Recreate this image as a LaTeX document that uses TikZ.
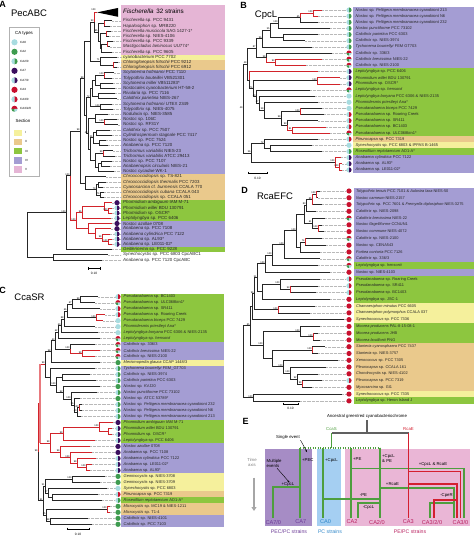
\documentclass[tikz,border=0pt]{standalone}
\usepackage{fontspec}
\setmainfont{Liberation Sans}
\usetikzlibrary{arrows.meta}

\definecolor{secI}{HTML}{F5F09C}
\definecolor{secII}{HTML}{EAC98C}
\definecolor{secIII}{HTML}{8DC63F}
\definecolor{secIV}{HTML}{A49DD3}
\definecolor{secV}{HTML}{E5B5D5}
\definecolor{cazero}{HTML}{A8DCE0}
\definecolor{cagreen}{HTML}{3E9B4F}
\definecolor{capurple}{HTML}{3A0F5E}
\definecolor{cared}{HTML}{C8102E}
\definecolor{treered}{HTML}{D2232A}
\definecolor{qpink}{HTML}{E8797D}
\definecolor{egreen}{HTML}{4E9E3E}
\definecolor{ered}{HTML}{D42030}
\definecolor{boxpur}{HTML}{A68CC5}
\definecolor{boxblu}{HTML}{A5CFF2}
\definecolor{boxpnk}{HTML}{EAB6D6}
\definecolor{lblpur}{HTML}{6B3A96}
\definecolor{lblblu}{HTML}{2E86C8}
\definecolor{lblpnk}{HTML}{B8205F}

\newcommand{\icr}{2.6pt}

% CA type icons
\tikzset{
  ca0/.pic={\fill[cazero] (0,0) circle (\icr);},
  ca2/.pic={\fill[cagreen] (0,0) circle (\icr);},
  ca20/.pic={\fill[cazero] (90:\icr) arc (90:270:\icr) -- cycle;
             \fill[cagreen] (-90:\icr) arc (-90:90:\icr) -- cycle;},
  ca7/.pic={\fill[capurple] (0,0) circle (\icr);},
  ca70/.pic={\fill[cazero] (90:\icr) arc (90:270:\icr) -- cycle;
             \fill[capurple] (-90:\icr) arc (-90:90:\icr) -- cycle;},
  ca3/.pic={\fill[cared] (0,0) circle (\icr);},
  ca30/.pic={\fill[cazero] (90:\icr) arc (90:270:\icr) -- cycle;
             \fill[cared] (-90:\icr) arc (-90:90:\icr) -- cycle;},
  ca320/.pic={\fill[cared] (0:\icr) arc (0:180:\icr) -- cycle;
              \fill[cagreen] (0,0) -- (180:\icr) arc (180:270:\icr) -- cycle;
              \fill[cazero] (0,0) -- (270:\icr) arc (270:360:\icr) -- cycle;}
}

\begin{document}
\begin{tikzpicture}[x=1pt, y=-1pt,
  br/.style={draw=black!85, line width=0.55pt},
  rbr/.style={draw=treered, line width=0.55pt},
  lead/.style={draw=gray!55, line width=0.3pt, dash pattern=on 0.5pt off 0.8pt},
  lbl/.style={anchor=west, inner sep=0pt, text=black!85, font=\fontsize{4}{4.5}\selectfont},
  bs/.style={anchor=south east, inner sep=0.2pt, font=\fontsize{2.5}{3}\selectfont},
  ttl/.style={font=\fontsize{9.5}{11}\selectfont},
  plet/.style={font=\bfseries\fontsize{9}{10}\selectfont},
  lgd/.style={anchor=west, inner sep=0pt, font=\fontsize{3}{3.5}\selectfont},
  sbar/.style={draw=black, line width=0.5pt},
  gl/.style={draw=egreen, line width=1.5pt},
  rl/.style={draw=ered, line width=1.5pt},
  etxt/.style={inner sep=0.5pt, font=\fontsize{4.3}{5}\selectfont},
  calbl/.style={inner sep=0pt, font=\fontsize{5.6}{6}\selectfont},
  earr/.style={-{Stealth[length=2.2pt,width=2pt]}, line width=0.4pt}]

\useasboundingbox (0,0) rectangle (474,536);

% ---------------- A: PecABC ----------------
\node[plet] (letA) at (2.5,4.5) {A};
\node[ttl] (ttlA) at (29,13.3) {PecABC};

\draw[gray!60, line width=0.5pt] (9,27.5) rectangle (39.5,176);
\node[font=\fontsize{4.4}{5}\selectfont] (lgdca) at (24,33.5) {CA types};
\begin{scope}
  \renewcommand{\icr}{3.1pt}
  \foreach \t/\l/\y in {ca0/CA0/42.3, ca2/CA2/51.8, ca20/CA2\slash 0/61.3, ca7/CA7/70.8,
                        ca70/CA7\slash 0/80.3, ca3/CA3/89.8, ca30/CA3\slash 0/99.3, ca320/CA3\slash 2\slash 0/108.8} {
    \pic at (14.5,\y) {\t};
    \node[lgd] (lg\t) at (20,\y) {\l};
  }
\end{scope}
\node[font=\fontsize{4.4}{5}\selectfont] (lgdsec) at (23,121) {Section};
\foreach \c/\l/\y in {secI/I/132.7, secII/II/141.9, secIII/III/151.1, secIV/IV/160.3, secV/V/169.5} {
  \fill[\c] (14,\y-3.2) rectangle (22,\y+3.2);
  \node[lgd] (lgs\c) at (25,\y) {\l};
}

\begin{scope}[yshift=-15.5pt, y=-5.2pt]
  % section boxes
  \fill[secV] (121,-2) rectangle (225,7.5);
  \foreach \a/\b/\c in {7.5/8.5/secI, 8.5/10.5/secII, 10.5/30.5/secIV, 30.5/35.5/secII,
                        35.5/39.5/secIII, 39.5/44.5/secIV, 44.5/45.5/secIII}
    \fill[\c] (121,\a) rectangle (225,\b);

  % collapsed Fischerella clade
  \fill[black] (97,-0.6) -- (118,-1.45) -- (118,0.25) -- cycle;
  \node[anchor=west, inner sep=0pt, font=\fontsize{6.3}{7}\selectfont] (fisch) at (123,-0.8) {\textit{Fischerella}\, 32 strains};

  % internal branches
  \foreach \a/\b/\c/\d/\s in {27/42.2/66/37.9/br, 27/42.2/53/46.5/br, 66/37.9/70/30.8/br,
      70/30.8/80/22.19/br, 70/30.8/76/39.41/rbr, 80/22.19/84/12.13/br, 80/22.19/85/32.25/br,
      84/12.13/90/5.02/br, 84/12.13/86/19.23/br, 90/5.02/94/1.29/br, 90/5.02/100/8.75/br,
      94/1.29/97/-0.6/rbr, 94/1.29/98/3.19/br, 98/3.19/104/1.5/br, 98/3.19/100/4.875/br,
      100/4.875/106/3.5/br, 100/4.875/101/6.25/br, 101/6.25/107/5.5/br, 100/8.75/113/9.5/br,
      86/19.23/90/15.75/br, 86/19.23/88/22.72/br, 90/15.75/92/14/br, 90/15.75/100/17.5/br,
      92/14/95/12.5/br, 92/14/98/15.5/br, 95/12.5/104/11.5/br, 95/12.5/100/13.5/br,
      88/22.72/95/19.75/br, 88/22.72/90/25.69/br, 95/19.75/104/20.5/br, 90/25.69/93/23.5/br,
      90/25.69/95/27.875/br, 93/23.5/96/22.5/br, 93/23.5/99/24.5/br, 95/27.875/103/26.5/br,
      95/27.875/98/29.25/br, 98/29.25/101/28.5/br, 85/32.25/96/33.5/br, 96/33.5/98/32.5/br,
      96/33.5/100/34.5/br, 76/39.41/82/37.875/rbr, 76/39.41/88/40.94/rbr, 82/37.875/104/36.75/rbr,
      104/36.75/108/37.5/rbr, 88/40.94/95/41.875/rbr, 95/41.875/102/42.75/rbr, 102/42.75/108/43.5/rbr}
    \draw[\s] (\a,\b) |- (\c,\d);

  % leaves
  \foreach \a/\b/\c/\d/\s in {104/1.5/112/1/br, 104/1.5/110/2/br, 106/3.5/111/3/br, 106/3.5/109/4/br,
      107/5.5/113/5/br, 107/5.5/110/6/br, 101/6.25/112/7/br, 100/8.75/117/8/br, 113/9.5/118/9/br,
      113/9.5/117/10/br, 104/11.5/114/11/br, 104/11.5/112/12/br, 100/13.5/113/13/br, 100/13.5/115/14/br,
      98/15.5/115/15/br, 98/15.5/117/16/br, 100/17.5/112/17/br, 100/17.5/113/18/br, 95/19.75/108/19/br,
      104/20.5/117/20/br, 104/20.5/118/21/br, 96/22.5/110/22/br, 96/22.5/112/23/br, 99/24.5/106/24/br,
      99/24.5/108/25/br, 103/26.5/113/26/br, 103/26.5/115/27/br, 101/28.5/112/28/br, 101/28.5/110/29/br,
      98/29.25/114/30/br, 85/32.25/106/31/br, 98/32.5/106/32/br, 98/32.5/103/33/br, 100/34.5/104/34/br,
      100/34.5/104/35/br, 104/36.75/112/36/rbr, 108/37.5/112/37/rbr, 108/37.5/112/38/rbr,
      82/37.875/111/39/rbr, 88/40.94/112/40/rbr, 95/41.875/111/41/rbr, 102/42.75/110/42/rbr,
      108/43.5/112/43/rbr, 108/43.5/112/44/rbr, 66/37.9/112/45/br, 53/46.5/108/46/br, 53/46.5/102/47/br}
    {\draw[lead] (\c,\d) -- (121,\d); \draw[\s] (\a,\b) |- (\c,\d);}

  \foreach \x/\a/\b in {104/1/2, 106/3/4, 107/5/6, 113/9/10, 104/11/12, 104/20/21, 103/26/27}
    \draw[rbr] (\x,\a) -- (\x,\b);

  \foreach \x/\r/\t in {96/-0.8/100, 94/1.29/93, 98/3.19/95, 100/8.75/71, 84/12.13/99, 80/22.19/99,
      70/30.8/100, 66/37.9/100, 104/11.5/100, 90/15.75/72, 104/20.5/100, 93/23.5/26, 88/22.72/40,
      103/26.5/99, 100/17.5/100, 76/39.41/100, 82/37.875/96, 108/37.5/100, 108/43.5/100,
      102/42.75/99, 96/33.5/70, 100/34.5/74}
    \node[bs] at (\x,\r) {\t};

  \foreach \t [count=\i from 36] in {ca7, ca70, ca70, ca70, ca7, ca7, ca70, ca70, ca70}
    \pic at (117,\i) {\t};

  \foreach \nm [count=\i] in {{\textit{Fischerella} sp. PCC 9431}, {\textit{Hapalosiphon} sp. MRB220},
      {\textit{Fischerella muscicola} SAG 1427-1*}, {\textit{Fischerella} sp. NIES-4106},
      {\textit{Fischerella} sp. PCC 9339}, {\textit{Mastigocladus laminosus} UU774*},
      {\textit{Fischerella} sp. PCC 9605}, {cyanobacterium PCC 7702},
      {\textit{Chlorogloeopsis fritschii} PCC 9212}, {\textit{Chlorogloeopsis fritschii} PCC 6912},
      {\textit{Scytonema hofmanni} PCC 7110}, {\textit{Tolypothrix bouteillei} VB521301},
      {\textit{Scytonema millei} VB511283*}, {\textit{Nostocales cyanobacterium} HT-58-2},
      {\textit{Rivularia} sp. PCC 7116}, {\textit{Calothrix parietina} NIES-267},
      {\textit{Scytonema hofmanni} UTEX 2349}, {\textit{Tolypothrix} sp. NIES-4075},
      {\textit{Nodularia} sp. NIES-3585}, {\textit{Nostoc} sp. 106C}, {\textit{Nostoc} sp. RF31Y},
      {\textit{Calothrix} sp. PCC 7507}, {\textit{Cylindrospermum stagnale} PCC 7417},
      {\textit{Nostoc} sp. PCC 7524}, {\textit{Anabaena} sp. PCC 7120},
      {\textit{Trichormus variabilis} NIES-23}, {\textit{Trichormus variabilis} ATCC 29413},
      {\textit{Nostoc} sp. PCC 7107}, {\textit{Anabaenopsis circularis} NIES-21},
      {\textit{Nostoc cycadae} WK-1}, {\textit{Chroococcidiopsis} sp. TS-821},
      {\textit{Chroococcidiopsis thermalis} PCC 7203}, {\textit{Cyanosarcina} cf. \textit{burmensis} CCALA 770},
      {\textit{Chroococcidiopsis cubana} CCALA 043}, {\textit{Chroococcidiopsis} sp. CCALA 051},
      {\textit{Phormidium ambiguum} IAM M-71}, {\textit{Phormidium willei} BDU 130791},
      {\textit{Phormidium} sp. OSCR*}, {\textit{Leptolyngbya} sp. PCC 6406},
      {\textit{Nostoc azollae} 0708}, {\textit{Anabaena} sp. PCC 7108},
      {\textit{Anabaena cylindrica} PCC 7122}, {\textit{Anabaena} sp. AL93*},
      {\textit{Anabaena} sp. LE011-02*}, {\textit{Geitlerinema} sp. PCC 9228},
      {\textit{Synechocystis} sp. PCC 6803 CpcABC1}, {\textit{Anabaena} sp. PCC 7120 CpcABC}}
    \node[lbl, font=\fontsize{4.4}{5}\selectfont] (la\i) at (123,\i) {\nm};
\end{scope}

\draw[sbar] (88,266.8) -- (88,269.6) (88,268.2) -- (100,268.2) (100,266.8) -- (100,269.6);
\node[bs, anchor=center, font=\fontsize{3.2}{4}\selectfont] (sclA) at (94,273) {0.10};

% ---------------- B: CpcL ----------------
\node[plet] (letB) at (243.5,5) {B};
\node[ttl] (ttlB) at (266,15.5) {CpcL};

\begin{scope}[yshift=-3.85pt, y=-6.15pt]
  \foreach \a/\b/\c in {0.5/10.5/secIV, 10.5/21.5/secIII, 21.5/22.5/secII, 22.5/23.5/secI,
                        23.5/24.5/secIII, 24.5/27.5/secIV}
    \fill[\c] (353,\a) rectangle (474,\b);

  \foreach \a/\b/\c/\d/\s in {243/17.03/247/9.8/br, 243/17.03/251/24.25/br, 247/9.8/256/7.2/br,
      247/9.8/249/12.4/br, 256/7.2/262/5.66/br, 256/7.2/266/8.75/br, 262/5.66/270/4.31/br,
      270/4.31/278/3.125/br, 270/4.31/283/5.5/br, 278/3.125/300/2.25/br, 300/2.25/313/1.5/rbr,
      266/8.75/275/9.5/rbr, 249/12.4/253/13.79/br, 253/13.79/317/12.5/br, 253/13.79/256/15.08/br,
      256/15.08/259/16.16/br, 259/16.16/264/17.31/br, 264/17.31/281/18.625/br, 281/18.625/300/17.5/br,
      281/18.625/287/19.75/br, 287/19.75/292/20.5/rbr, 251/24.25/264/22.75/br, 251/24.25/335/25.75/br,
      264/22.75/270/23.5/br, 335/25.75/339/26.5/rbr}
    \draw[\s] (\a,\b) |- (\c,\d);

  \foreach \a/\b/\c/\d/\s in {313/1.5/322/1/rbr, 313/1.5/318/2/rbr, 300/2.25/318/3/br, 278/3.125/330/4/br,
      283/5.5/318/5/br, 283/5.5/305/6/br, 262/5.66/312/7/br, 266/8.75/332/8/br, 275/9.5/322/9/rbr,
      275/9.5/306/10/rbr, 249/12.4/318/11/rbr, 317/12.5/340/12/rbr, 317/12.5/340/13/rbr,
      256/15.08/310/14/br, 259/16.16/315/15/br, 264/17.31/318/16/br, 300/17.5/322/17/br,
      300/17.5/324/18/br, 287/19.75/318/19/br, 292/20.5/326/20/rbr, 292/20.5/330/21/rbr,
      264/22.75/318/22/br, 270/23.5/312/23/br, 270/23.5/322/24/br, 335/25.75/341/25/rbr,
      339/26.5/342/26/rbr, 339/26.5/342/27/rbr}
    {\draw[lead] (\c,\d) -- (346,\d); \draw[\s] (\a,\b) |- (\c,\d);}

  \draw[rbr] (300,17) -- (300,18);

  \foreach \x/\r/\t in {313/1.5/100, 300/2.25/65, 278/3.125/100, 270/4.31/55, 262/5.66/96,
      256/7.2/87, 247/9.8/49, 243/17.03/49, 266/8.75/59, 275/9.5/93, 253/13.79/74, 256/15.08/40,
      259/16.16/47, 264/17.31/59, 281/18.625/99, 300/17.5/100, 287/19.75/93, 292/20.5/91,
      317/12.5/100, 264/22.75/72, 251/24.25/56, 335/25.75/100, 339/26.5/100}
    \node[bs] at (\x,\r) {\t};

  \foreach \t [count=\i] in {ca20, ca20, ca20, ca20, ca20, ca20, ca20, ca320, ca320, ca320,
                             ca70, ca70, ca70, ca320, ca0, ca0, ca0, ca30, ca30, ca30,
                             ca320, ca30, ca0, ca20, ca70, ca70, ca70}
    \pic at (349,\i) {\t};

  \foreach \nm [count=\i] in {{\textit{Nostoc} sp. \textit{Peltigera membranacea} cyanobiont 213},
      {\textit{Nostoc} sp. \textit{Peltigera membranacea} cyanobiont N6},
      {\textit{Nostoc} sp. \textit{Peltigera membranacea} cyanobiont 232},
      {\textit{Nostoc punctiforme} PCC 73102}, {\textit{Calothrix parietina} PCC 6303},
      {\textit{Calothrix} sp. NIES-3974}, {\textit{Tychonema bourrellyi} FEM GT703},
      {\textit{Calothrix} sp. 336/3}, {\textit{Calothrix brevissima} NIES-22},
      {\textit{Calothrix} sp. NIES-2100}, {\textit{Leptolyngbya} sp. PCC 6406},
      {\textit{Phormidium willei} BDU 130791}, {\textit{Phormidium} sp. OSCR*},
      {\textit{Leptolyngbya} sp. \textit{hensonii}}, {\textit{Leptolyngbya boryana} PCC 6306 \& NIES-2135},
      {\textit{Phormidesmis priestleyi} Ana*}, {\textit{Pseudanabaena biceps} PCC 7429},
      {\textit{Pseudanabaena} sp. Roaring Creek}, {\textit{Pseudanabaena} sp. SR411},
      {\textit{Pseudanabaena} sp. BC1403}, {\textit{Pseudanabaena} sp. ULC068bin1*},
      {\textit{Pleurocapsa} sp. PCC 7319}, {\textit{Synechocystis} sp. PCC 6803 \& IPPAS B-1465},
      {\textit{Roseofilum reptotaenium} AO1-A*}, {\textit{Anabaena cylindrica} PCC 7122},
      {\textit{Anabaena} sp. AL93*}, {\textit{Anabaena} sp. LE011-02*}}
    \node[lbl] (lb\i) at (355.5,\i) {\nm};
\end{scope}

\draw[sbar] (248,171.6) -- (248,174.4) (248,173) -- (267,173) (267,171.6) -- (267,174.4);
\node[bs, anchor=center, font=\fontsize{3.2}{4}\selectfont] (sclB) at (257.5,178.5) {0.10};

% ---------------- C: CcaSR ----------------
\node[plet] (letC) at (2.5,290) {C};
\node[ttl] (ttlC) at (29.5,297.5) {CcaSR};

\begin{scope}[yshift=-290.71pt, y=-5.99pt]
  \foreach \a/\b/\c in {0.5/8.5/secIII, 8.5/11.5/secIV, 11.5/12.5/secI, 12.5/21.5/secIV,
                        21.5/25.5/secIII, 25.5/30.5/secIV, 30.5/33.5/secI, 33.5/34.5/secII,
                        34.5/35.5/secIII, 35.5/37.5/secII, 37.5/39.5/secIV}
    \fill[\c] (121,\a) rectangle (224,\b);

  \foreach \a/\b/\c/\d/\s in {38/26.94/40/18.84/rbr, 38/26.94/43/35.05/br, 40/18.84/45/12.28/rbr,
      40/18.84/50/25.4/rbr, 45/12.28/51/10.17/br, 45/12.28/50/14.38/br, 51/10.17/55/8.34/br,
      55/8.34/58/6.92/br, 55/8.34/70/9.75/br, 58/6.92/61/5.84/br, 61/5.84/64/4.69/br,
      64/4.69/67/3.375/br, 67/3.375/72/2.25/br, 67/3.375/96/4.5/br, 72/2.25/80/1.5/br,
      70/9.75/82/10.5/rbr, 50/14.38/56/15.77/br, 56/15.77/62/14.5/br, 56/15.77/63/17.03/br,
      63/17.03/71/18.06/br, 71/18.06/74/19.125/br, 74/19.125/77/20.25/br, 77/20.25/79/19.5/br,
      50/25.4/63/23.875/rbr, 50/25.4/60/26.94/rbr, 63/23.875/99/22.75/rbr, 99/22.75/108/23.5/rbr,
      60/26.94/70/27.875/rbr, 70/27.875/77/28.75/rbr, 77/28.75/86/29.5/rbr, 43/35.05/45/32.6/br,
      43/35.05/46/37.5/br, 45/32.6/72/31.5/br, 45/32.6/48/33.75/br, 48/33.75/52/34.5/br,
      46/37.5/107/36.5/br, 46/37.5/50/38.5/br}
    \draw[\s] (\a,\b) |- (\c,\d);

  \foreach \a/\b/\c/\d/\s in {80/1.5/98/1/br, 80/1.5/95/2/br, 72/2.25/100/3/br, 96/4.5/105/4/rbr,
      96/4.5/103/5/rbr, 64/4.69/95/6/br, 61/5.84/98/7/br, 58/6.92/100/8/br, 70/9.75/95/9/br,
      82/10.5/100/10/rbr, 82/10.5/95/11/rbr, 51/10.17/100/12/br, 50/14.38/95/13/br, 62/14.5/90/14/br,
      62/14.5/96/15/br, 63/17.03/100/16/br, 71/18.06/97/17/br, 74/19.125/80/18/br, 79/19.5/82/19/br,
      79/19.5/82/20/br, 77/20.25/81/21/br, 99/22.75/113/22/rbr, 108/23.5/112/23/rbr,
      108/23.5/112/24/rbr, 63/23.875/95/25/rbr, 60/26.94/90/26/rbr, 70/27.875/92/27/rbr,
      77/28.75/96/28/rbr, 86/29.5/92/29/rbr, 86/29.5/90/30/rbr, 72/31.5/105/31/br, 72/31.5/100/32/br,
      48/33.75/107/33/br, 52/34.5/98/34/br, 52/34.5/102/35/br, 107/36.5/110/36/rbr,
      107/36.5/110/37/rbr, 50/38.5/88/38/br, 50/38.5/92/39/br}
    {\draw[lead] (\c,\d) -- (115,\d); \draw[\s] (\a,\b) |- (\c,\d);}

  \draw[qpink, line width=2pt] (40,12.28) -- (40,25.4);
  \draw[rbr] (79,19) -- (79,20);

  \foreach \x/\r/\t in {80/1.5/99, 72/2.25/67, 96/4.5/100, 67/3.375/66, 64/4.69/88, 61/5.84/60,
      58/6.92/62, 55/8.34/63, 70/9.75/100, 82/10.5/99, 51/10.17/98, 45/12.28/99, 56/15.77/100,
      63/17.03/92, 71/18.06/100, 74/19.125/56, 77/20.25/40, 79/19.5/100, 99/22.75/100, 63/23.875/99,
      60/26.94/99, 70/27.875/100, 77/28.75/99, 86/29.5/100, 50/25.4/99, 38/26.94/99, 72/31.5/100,
      45/32.6/51, 48/33.75/27, 43/35.05/91, 46/37.5/25, 107/36.5/100, 50/38.5/98}
    \node[bs] at (\x,\r) {\t};

  \foreach \t [count=\i] in {ca30, ca320, ca30, ca30, ca0, ca0, ca0, ca320, ca320, ca320,
                             ca320, ca2, ca20, ca20, ca20, ca2, ca20, ca2, ca20, ca20,
                             ca20, ca7, ca70, ca70, ca70, ca7, ca7, ca70, ca70, ca70,
                             ca2, ca2, ca0, ca30, ca20, ca2, ca2, ca2, ca2}
    \pic at (118,\i) {\t};

  \foreach \nm [count=\i] in {{\textit{Pseudanabaena} sp. BC1403}, {\textit{Pseudanabaena} sp. ULC068bin1*},
      {\textit{Pseudanabaena} sp. SR411}, {\textit{Pseudanabaena} sp. Roaring Creek},
      {\textit{Pseudanabaena biceps} PCC 7429}, {\textit{Phormidesmis priestleyi} Ana*},
      {\textit{Leptolyngbya boryana} PCC 6306 \& NIES-2135}, {\textit{Leptolyngbya} sp. \textit{hensonii}},
      {\textit{Calothrix} sp. 336/3}, {\textit{Calothrix brevissima} NIES-22},
      {\textit{Calothrix} sp. NIES-2100}, {\textit{Merismopedia glauca} CCAP 1448/3},
      {\textit{Tychonema bourrellyi} FEM\_GT703}, {\textit{Calothrix} sp. NIES-3974},
      {\textit{Calothrix parietina} PCC 6303}, {\textit{Nostoc} sp. KVJ20},
      {\textit{Nostoc punctiforme} PCC 73102}, {\textit{Nostoc} sp. ATCC 53789*},
      {\textit{Nostoc} sp. \textit{Peltigera membranacea} cyanobiont 232},
      {\textit{Nostoc} sp. \textit{Peltigera membranacea} cyanobiont N6},
      {\textit{Nostoc} sp. \textit{Peltigera membranacea} cyanobiont 213},
      {\textit{Phormidium ambiguum} IAM M-71}, {\textit{Phormidium willei} BDU 130791},
      {\textit{Phormidium} sp. OSCR*}, {\textit{Leptolyngbya} sp. PCC 6406},
      {\textit{Nostoc azollae} 0708}, {\textit{Anabaena} sp. PCC 7108},
      {\textit{Anabaena cylindrica} PCC 7122}, {\textit{Anabaena} sp. LE011-02*},
      {\textit{Anabaena} sp. AL93*}, {\textit{Geminocystis} sp. NIES-3708},
      {\textit{Geminocystis} sp. NIES-3709}, {\textit{Synechocystis} sp. PCC 6803},
      {\textit{Pleurocapsa} sp. PCC 7319}, {\textit{Roseofilum reptotaenium} AO1-A*},
      {\textit{Microcystis} sp. MC19 \& NIES-1211}, {\textit{Microcystis} sp. T1-4},
      {\textit{Calothrix} sp. NIES-4101}, {\textit{Calothrix} sp. PCC 7103}}
    \node[lbl] (lc\i) at (123.5,\i) {\nm};
\end{scope}

\draw[sbar] (67,527.6) -- (67,530.4) (67,529) -- (89,529) (89,527.6) -- (89,530.4);
\node[bs, anchor=center, font=\fontsize{3.2}{4}\selectfont] (sclC) at (78,534) {0.10};

% ---------------- D: RcaEFC ----------------
\node[plet] (letD) at (244.5,190) {D};
\node[ttl] (ttlD) at (275,196.5) {RcaEFC};

\begin{scope}[yshift=-184.23pt, y=-6.77pt]
  \foreach \a/\b/\c in {0.5/11.5/secIV, 11.5/12.5/secIII, 12.5/13.5/secIV, 13.5/17.5/secIII,
                        17.5/20.5/secI, 20.5/23.5/secIII, 23.5/30.5/secII, 30.5/31.5/secI,
                        31.5/32.5/secIII}
    \fill[\c] (354,\a) rectangle (474,\b);

  \foreach \a/\b/\c/\d/\s in {243/26.2/250/20.9/br, 243/26.2/253/31.5/br, 250/20.9/252/18.08/br,
      250/20.9/263/23.73/br, 252/18.08/254/16.15/br, 254/16.15/257/13.8/br, 254/16.15/278/18.5/br,
      257/13.8/265/11.73/br, 257/13.8/262/15.875/br, 265/11.73/272/10.46/br, 272/10.46/284/8.92/br,
      284/8.92/296/6.84/br, 296/6.84/304/4.44/br, 296/6.84/300/9.25/br, 304/4.44/306/3.125/br,
      304/4.44/312/5.75/br, 306/3.125/312/2.25/br, 312/2.25/316/1.5/br, 312/5.75/318/6.5/br,
      300/9.25/305/8.5/br, 262/15.875/280/14.75/br, 280/14.75/290/15.5/br, 263/23.73/300/21.75/br,
      263/23.73/272/25.72/br, 300/21.75/313/22.5/br, 272/25.72/312/24.5/br, 272/25.72/283/26.94/br,
      283/26.94/290/27.875/br, 290/27.875/297/28.75/br, 297/28.75/302/29.5/br}
    \draw[\s] (\a,\b) |- (\c,\d);

  \foreach \a/\b/\c/\d/\s in {316/1.5/320/1/br, 316/1.5/318/2/br, 312/2.25/322/3/br, 306/3.125/316/4/br,
      312/5.75/325/5/br, 318/6.5/322/6/br, 318/6.5/324/7/br, 305/8.5/322/8/br, 305/8.5/326/9/br,
      300/9.25/320/10/br, 284/8.92/320/11/br, 272/10.46/318/12/br, 265/11.73/330/13/br,
      280/14.75/320/14/br, 290/15.5/318/15/br, 290/15.5/316/16/br, 262/15.875/330/17/br,
      278/18.5/315/18/br, 278/18.5/310/19/br, 252/18.08/344/20/br, 300/21.75/320/21/br,
      313/22.5/318/22/br, 313/22.5/320/23/br, 312/24.5/325/24/br, 312/24.5/318/25/br,
      283/26.94/338/26/br, 290/27.875/326/27/br, 297/28.75/318/28/br, 302/29.5/322/29/br,
      302/29.5/312/30/br, 253/31.5/342/31/br, 253/31.5/300/32/br}
    {\draw[lead] (\c,\d) -- (346,\d); \draw[\s] (\a,\b) |- (\c,\d);}

  \foreach \x/\a/\b in {316/1/2, 318/6/7, 305/8/9, 290/15/16, 313/22/23, 312/24/25, 302/29/30,
                        312/1.5/3, 278/18/19}
    \draw[rbr] (\x,\a) -- (\x,\b);

  \foreach \x/\r/\t in {316/1.5/100, 312/2.25/85, 306/3.125/83, 312/5.75/61, 318/6.5/100, 305/8.5/74,
      296/6.84/100, 284/8.92/100, 272/10.46/100, 265/11.73/100, 257/13.8/51, 254/16.15/96,
      280/14.75/100, 290/15.5/53, 278/18.5/100, 250/20.9/85, 300/21.75/100, 313/22.5/100,
      263/23.73/100, 312/24.5/100, 283/26.94/100, 290/27.875/100, 297/28.75/92, 302/29.5/99,
      253/31.5/100}
    \node[bs] at (\x,\r) {\t};

  \foreach \t [count=\i] in {ca3, ca3, ca3, ca3, ca320, ca3, ca3, ca320, ca3, ca3,
                             ca320, ca320, ca3, ca30, ca30, ca30, ca3, ca3, ca3, ca3,
                             ca3, ca3, ca3, ca3, ca3, ca3, ca3, ca3, ca30, ca3, ca3, ca3}
    \pic at (349,\i) {\t};

  \foreach \nm [count=\i] in {{\textit{Tolypothrix tenuis} PCC 7101 \& \textit{Aulosira laxa} NIES-50},
      {\textit{Nostoc carneum} NIES-2157},
      {\textit{Tolypothrix} sp. PCC 7601 \& \textit{Fremyella diplosiphon} NIES-3275},
      {\textit{Calothrix} sp. NIES-2098}, {\textit{Calothrix brevissima} NIES-22},
      {\textit{Nostoc flagelliforme} CCNUN1}, {\textit{Nostoc commune} NIES-4072},
      {\textit{Calothrix} sp. NIES-2100}, {\textit{Nostoc} sp. CENA543},
      {\textit{Fortiea contorta} PCC 7126}, {\textit{Calothrix} sp. 336/3},
      {\textit{Leptolyngbya} sp. \textit{hensonii}}, {\textit{Nostoc} sp. NIES-4103},
      {\textit{Pseudanabaena} sp. Roaring Creek}, {\textit{Pseudanabaena} sp. SR411},
      {\textit{Pseudanabaena} sp. BC1403}, {\textit{Leptolyngbya} sp. JSC-1},
      {\textit{Chamaesiphon minutus} PCC 6605}, {\textit{Chamaesiphon polymorphus} CCALA 037},
      {\textit{Synechococcus} sp. PCC 7336}, {\textit{Moorea producens} PAL-8-15-08-1},
      {\textit{Moorea producens} JHB}, {\textit{Moorea bouillonii} PNG},
      {\textit{Stanieria cyanosphaera} PCC 7437}, {\textit{Stanieria} sp. NIES-3757},
      {\textit{Xenococcus} sp. PCC 7305}, {\textit{Pleurocapsa} sp. CCALA 161},
      {\textit{Chondrocystis} sp. NIES-4102}, {\textit{Pleurocapsa} sp. PCC 7319},
      {\textit{Myxosarcina} sp. GI1}, {\textit{Synechococcus} sp. PCC 7335},
      {\textit{Leptolyngbya} sp. Heron Island J}}
    \node[lbl, font=\fontsize{3.9}{4.5}\selectfont] (ld\i) at (356,\i) {\nm};
\end{scope}

\draw[sbar] (283,402.6) -- (283,405.4) (283,404) -- (298,404) (298,402.6) -- (298,405.4);
\node[bs, anchor=center, font=\fontsize{3.2}{4}\selectfont] (sclD) at (290.5,408.5) {0.10};

% ---------------- E: scenario ----------------
\node[plet] (letE) at (245.5,421.5) {E};

\fill[boxpur] (265,448.5) rectangle (312,526);
\fill[boxblu] (317,448.5) rectangle (341,526);
\fill[boxpnk] (345,448.5) rectangle (470,526);

\node[etxt] (anc) at (367,416.5) {Ancestral green/red cyanobacteriochrome};
\draw[draw=gray!75!black, line width=1.5pt] (367,420) -- (367,433) (331.5,433) -- (408.5,433);
\node[etxt, text=egreen] (ccas) at (331.5,428.8) {CcaS};
\node[etxt, text=ered] (rcae) at (408.5,428.8) {RcaE};

% green lineages
\draw[gl] (331.5,433) -- (331.5,448);
\draw[gl, dash pattern=on 1.3pt off 1.2pt] (300,448) -- (380,448);
\draw[gl] (300,448) -- (300,518);
\draw[gl] (300,487) -| (273,518);
\draw[gl] (323,448) -- (323,518);
\draw[gl] (351,448) -- (351,518);
\draw[gl] (380,448) -- (380,518);
\draw[gl] (380,499) -- (323,499);
\draw[gl] (380,503) -| (358,518);
\draw[gl] (351,468.5) -| (464,518);
\draw[gl] (380,488) -| (454,518);
\draw[gl] (454,503) -| (430,518);
% red lineages
\draw[rl] (408.5,433) -- (408.5,518);
\draw[rl] (408.5,471.5) -| (460.5,518);
\draw[rl] (408.5,484) -| (457,518);
\draw[rl] (457,500) -| (434,518);

\node[etxt] (sev) at (288,437.5) {Single event};
\coordinate (sevtip) at (307,452);
\draw[earr] (sev.south east) -- (sevtip);
\node[etxt, align=left, anchor=west] (mev) at (266,463.5) {Multiple\\events};
\coordinate (mevtip) at (289.5,482.5);
\draw[earr] (mev.south) ++(3,0) -- (mevtip);

\node[etxt, anchor=west] (pec) at (301.5,460) {+PEC};
\node[etxt] (cpc7) at (288,484.3) {+CpcL};
\node[etxt, anchor=west] (cpc0) at (324.5,460) {+CpcL};
\node[etxt, anchor=west] (pe2) at (352.5,459.5) {+PE};
\node[etxt, anchor=west, align=left] (cpcpe) at (381.5,458.5) {+CpcL\\\& PE};
\node[etxt] (cpcrca) at (433,464.5) {+CpcL \& RcaE};
\node[etxt] (prca) at (392.5,483.8) {+RcaE};
\node[etxt] (mpe) at (363.5,495.3) {-PE};
\node[etxt] (mcpc) at (368.5,507.2) {-CpcL};
\node[etxt] (mcper) at (446.5,495.8) {-CpeR};

\node[etxt, text=gray, align=center] (time) at (252,462) {Time\\axis};
\coordinate (timeend) at (254,511);
\draw[-{Triangle[length=4pt,width=5pt]}, line width=1.8pt, gray!70] (254,477.5) -- (timeend);

\foreach \x/\l/\c [count=\i] in {273.3/CA7\slash 0/lblpur, 300.7/CA7/lblpur, 325.5/CA0/lblblu,
                      352/CA2/lblpnk, 377/CA2\slash 0/lblpnk, 408.3/CA3/lblpnk,
                      432/CA3\slash 2\slash 0/lblpnk, 460.5/CA3\slash 0/lblpnk}
  \node[calbl, text=\c] (catype\i) at (\x,522) {\l};

\node[calbl, text=lblpur, font=\fontsize{5.2}{6}\selectfont] (pecpc) at (289,531.8) {PEC/PC strains};
\node[calbl, text=lblblu, font=\fontsize{5.2}{6}\selectfont] (pcst) at (330,531.8) {PC strains};
\node[calbl, text=lblpnk, font=\fontsize{5.2}{6}\selectfont] (pepc) at (410,531.8) {PE/PC strains};

\end{tikzpicture}
\end{document}
